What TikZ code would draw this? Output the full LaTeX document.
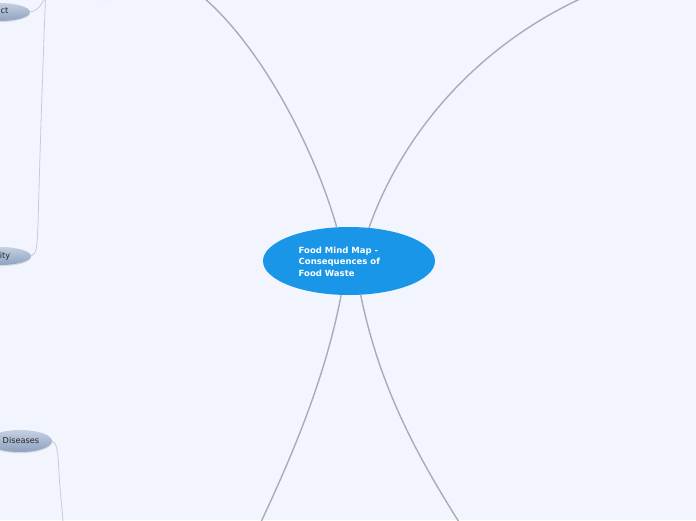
\documentclass[tikz,border=0pt]{standalone}
\usepackage{fontspec}
\setmainfont{DejaVu Sans}
\usetikzlibrary{shapes.geometric,shadows}
\definecolor{bgcol}{HTML}{F2F5FE}
\definecolor{centerblue}{HTML}{1A96E8}
\definecolor{mainline}{HTML}{AAACB3}
\definecolor{thinline}{HTML}{C9CBD1}
\definecolor{subtop}{HTML}{C4D0E2}
\definecolor{subbot}{HTML}{8DA1BF}
\tikzset{
  mainconn/.style={draw=mainline, line width=1.4pt},
  thinconn/.style={draw=thinline, line width=0.8pt},
  subnode/.style={ellipse, top color=subtop, bottom color=subbot, draw=none,
    drop shadow={shadow xshift=0pt, shadow yshift=-1.2pt, fill=black!35, opacity=0.35}},
  subtext/.style={font=\fontsize{8.2}{9}\selectfont, text=black!85, inner sep=0pt},
  centertext/.style={font=\fontsize{8.5}{11.4}\selectfont\bfseries, text=white, align=left, inner sep=0pt}
}
\begin{document}
\begin{tikzpicture}[x=1pt,y=-1pt]
\useasboundingbox (0,0) rectangle (696,520);
\clip (0,0) rectangle (696,520);
\fill[bgcol] (0,0) rectangle (696,520);

% off-picture end points
\coordinate (ul) at (204,-2);
\coordinate (ur) at (582,-2);
\coordinate (ll) at (261,522);
\coordinate (lr) at (459,522);
\coordinate (topA) at (44.5,-2);
\coordinate (topB) at (45.5,-2);
\coordinate (botD) at (63,522);

% partially visible node above the picture
\node[subnode, minimum width=44pt, minimum height=16pt, inner sep=0pt] (topnode) at (105,-9) {};

% central node
\node[ellipse, fill=centerblue, minimum width=172pt, minimum height=68pt, inner sep=0pt] (c) at (349,261) {};
\node[centertext, anchor=west] (ctext) at (298.5,261.5) {Food Mind Map -\\Consequences of\\Food Waste};

% left sub nodes (cut by the picture edge)
\node[subnode, minimum width=62pt, minimum height=18pt, inner sep=0pt] (n1) at (-1,12) {};
\node[subtext, anchor=east] (t1) at (8.5,10.5) {ct};
\node[subnode, minimum width=62pt, minimum height=18pt, inner sep=0pt] (n2) at (0,256) {};
\node[subtext, anchor=east] (t2) at (10.5,256) {ity};
\node[subnode, minimum width=64pt, minimum height=22pt, inner sep=0pt] (n3) at (20,441) {};
\node[subtext] (t3) at (21,440.5) {Diseases};

% main connectors
\draw[mainconn] (c.110) .. controls (315,150) and (262,48) .. (ul);
\draw[mainconn] (c.59) .. controls (400,140) and (470,50) .. (ur);
\draw[mainconn] (c.257) .. controls (325,380) and (290,460) .. (ll);
\draw[mainconn] (c.289) .. controls (380,390) and (420,460) .. (lr);

% thin connectors
\draw[thinconn] (n1.east) .. controls (37,11) and (41,6) .. (topA);
\draw[thinconn] (n2.east) .. controls (37,254) and (37,246) .. (38,225)
   .. controls (40,150) and (43,60) .. (topB);
\draw[thinconn] (n3.east) .. controls (57,443) and (58,452) .. (59,472)
   .. controls (60,492) and (62,506) .. (botD);
\end{tikzpicture}
\end{document}
